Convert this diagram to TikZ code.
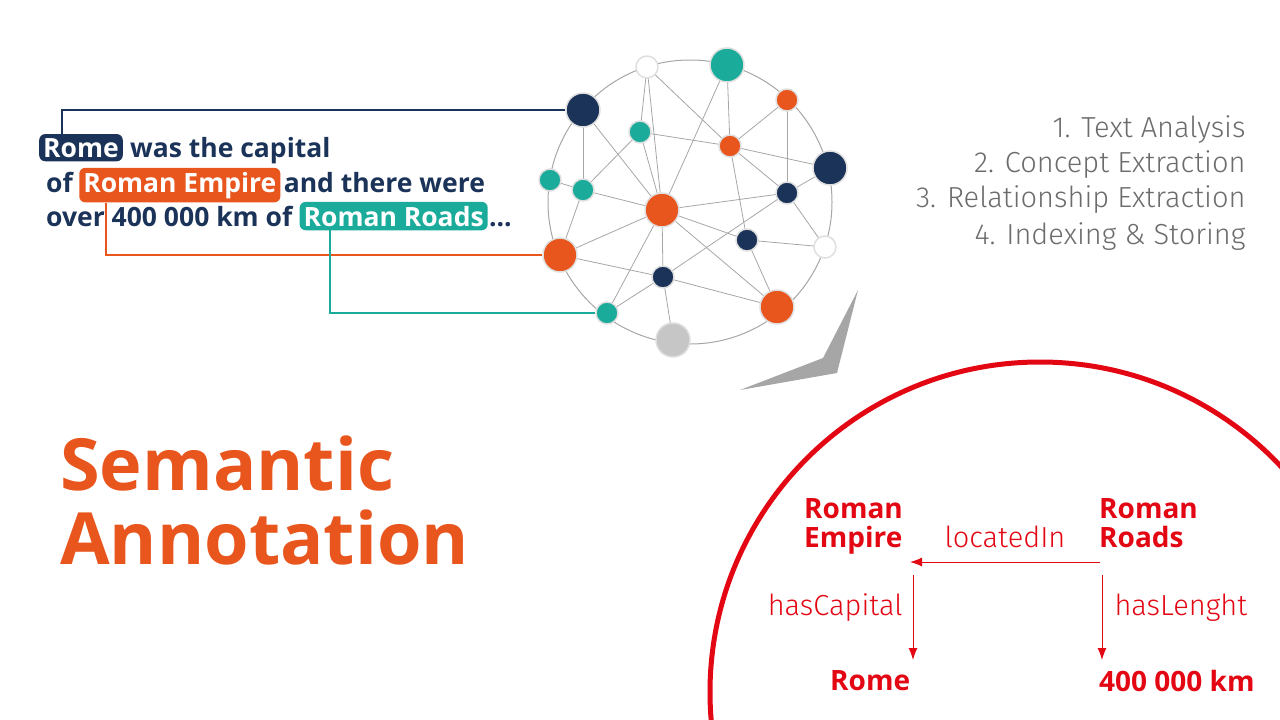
\documentclass[tikz,border=0pt]{standalone}
\usepackage{fontspec}
\setmainfont{Open Sans}
\newfontfamily\lightfont{Fira Sans Light}
\usetikzlibrary{positioning, arrows.meta}
\definecolor{navy}{HTML}{1B3358}
\definecolor{orng}{HTML}{E8561E}
\definecolor{teal}{HTML}{1AAB9B}
\definecolor{rred}{HTML}{E30613}

\tikzset{
  dot/.style={circle, draw=gray!25, line width=1.5pt, inner sep=0pt},
  big/.style={dot, minimum size=34pt},
  small/.style={dot, minimum size=22pt},
  tag/.style={rounded corners=6pt, inner xsep=4pt, inner ysep=4pt, text=white, anchor=base west,
    font=\bfseries\fontsize{26.5}{28}\selectfont},
  word/.style={font=\bfseries\fontsize{26.5}{28}\selectfont, text=navy, inner sep=3pt, anchor=base west},
  stage/.style={font=\lightfont\fontsize{29}{30}\selectfont, text=gray!85!black, anchor=east},
  concept/.style={font=\bfseries\fontsize{28}{29}\selectfont, text=rred, align=left, inner sep=0pt},
  rel/.style={font=\lightfont\fontsize{29}{29}\selectfont, text=rred, inner sep=0pt},
  relarrow/.style={draw=rred, line width=1pt, -{Latex[length=12pt,width=9pt]}}
}

\begin{document}
\begin{tikzpicture}[x=1pt, y=-1pt]
    \useasboundingbox (0,0) rectangle (1280,720);
    % network
    \draw[gray!70, line width=1pt] (690,202) circle (142);
    \coordinate (A) at (647,67);  \coordinate (B) at (727,65);
    \coordinate (C) at (787,100); \coordinate (D) at (583,110);
    \coordinate (E) at (640,132); \coordinate (F) at (730,146);
    \coordinate (G) at (830,168); \coordinate (H) at (550,180);
    \coordinate (I) at (583,190); \coordinate (J) at (662,210);
    \coordinate (K) at (787,193); \coordinate (L) at (747,240);
    \coordinate (M) at (825,247); \coordinate (N) at (560,255);
    \coordinate (O) at (663,277); \coordinate (P) at (777,307);
    \coordinate (Q) at (607,313); \coordinate (R) at (673,340);
    \foreach \a/\b in {A/E, A/J, A/F, B/J, B/F, C/F, C/K, D/I, D/J, E/I, E/F, E/J,
        F/G, F/K, F/L, I/J, H/I, I/N, J/K, J/N, J/Q, J/O, J/L, J/P, K/G, K/M, K/O,
        L/M, L/P, N/O, O/P, O/Q, O/R}
      \draw[gray!70, line width=0.8pt] (\a) -- (\b);
    \node[small, fill=white]   (nA) at (A) {};
    \node[big, fill=teal]      (nB) at (B) {};
    \node[small, fill=orng]    (nC) at (C) {};
    \node[big, fill=navy]      (nD) at (D) {};
    \node[small, fill=teal]    (nE) at (E) {};
    \node[small, fill=orng]    (nF) at (F) {};
    \node[big, fill=navy]      (nG) at (G) {};
    \node[small, fill=teal]    (nH) at (H) {};
    \node[small, fill=teal]    (nI) at (I) {};
    \node[big, fill=orng]      (nJ) at (J) {};
    \node[small, fill=navy]    (nK) at (K) {};
    \node[small, fill=navy]    (nL) at (L) {};
    \node[small, fill=white]   (nM) at (M) {};
    \node[big, fill=orng]      (nN) at (N) {};
    \node[small, fill=navy]    (nO) at (O) {};
    \node[big, fill=orng]      (nP) at (P) {};
    \node[small, fill=teal]    (nQ) at (Q) {};
    \node[big, fill=gray!45]   (nR) at (R) {};
    % sentence
    \node[tag, fill=navy] (rome) at (39,157) {Rome};
    \node[word, right=4pt of rome.base east, anchor=base west] (l1) {was the capital};
    \node[word] (of) at (43,192) {of};
    \node[tag, fill=orng, right=3pt of of.base east, anchor=base west] (empire) {Roman Empire};
    \node[word, right=0pt of empire.base east, anchor=base west] (l2) {and there were};
    \node[word] (l3) at (43,226) {over 400 000 km of};
    \node[tag, fill=teal, right=4pt of l3.base east, anchor=base west] (roads) {Roman Roads};
    \node[word, right=-2pt of roads.base east, anchor=base west] (dots) {...};
    \draw[navy, line width=2pt] (rome.north west -| 62,0) |- (nD);
    \draw[orng, line width=2pt] (empire.south west -| 106,0) |- (nN);
    \draw[teal, line width=2pt] (roads.south west -| 330,0) |- (nQ);
    % steps
    \node[stage] (s1) at (1249,130) {1. Text Analysis};
    \node[stage] (s2) at (1249,165) {2. Concept Extraction};
    \node[stage] (s3) at (1249,200) {3. Relationship Extraction};
    \node[stage] (s4) at (1249,237) {4. Indexing \& Storing};
    % chevron
    \fill[gray!70] (858,290) -- (837,373) -- (740,390) -- (823,358) -- cycle;
    % title
    \node[font=\bfseries\fontsize{72}{74}\selectfont, text=orng, align=left, anchor=north west, inner sep=0pt]
      (title) at (60,436) {Semantic\\Annotation};
    % red circle
    \draw[rred, line width=5pt] (1040,692) circle (330);
    \node[concept, anchor=north west] (empireC) at (804,498) {Roman\\Empire};
    \node[concept, anchor=north west] (roadsC) at (1099,498) {Roman\\Roads};
    \node[concept, anchor=west] (romeC) at (830,681) {Rome};
    \node[concept, anchor=west] (kmC) at (1099,681) {400 000 km};
    \coordinate (a1s) at (1100,562); \coordinate (a1e) at (910,562);
    \coordinate (a2s) at (913,575); \coordinate (a2e) at (913,660);
    \coordinate (a3s) at (1102,575); \coordinate (a3e) at (1102,660);
    \draw[relarrow] (a1s) -- (a1e) node[rel, midway, above=14pt] (located) {locatedIn};
    \draw[relarrow] (a2s) -- (a2e) node[rel, pos=0.38, left=10pt] (capital) {hasCapital};
    \draw[relarrow] (a3s) -- (a3e) node[rel, pos=0.38, right=12pt] (length) {hasLenght};
\end{tikzpicture}
\end{document}
